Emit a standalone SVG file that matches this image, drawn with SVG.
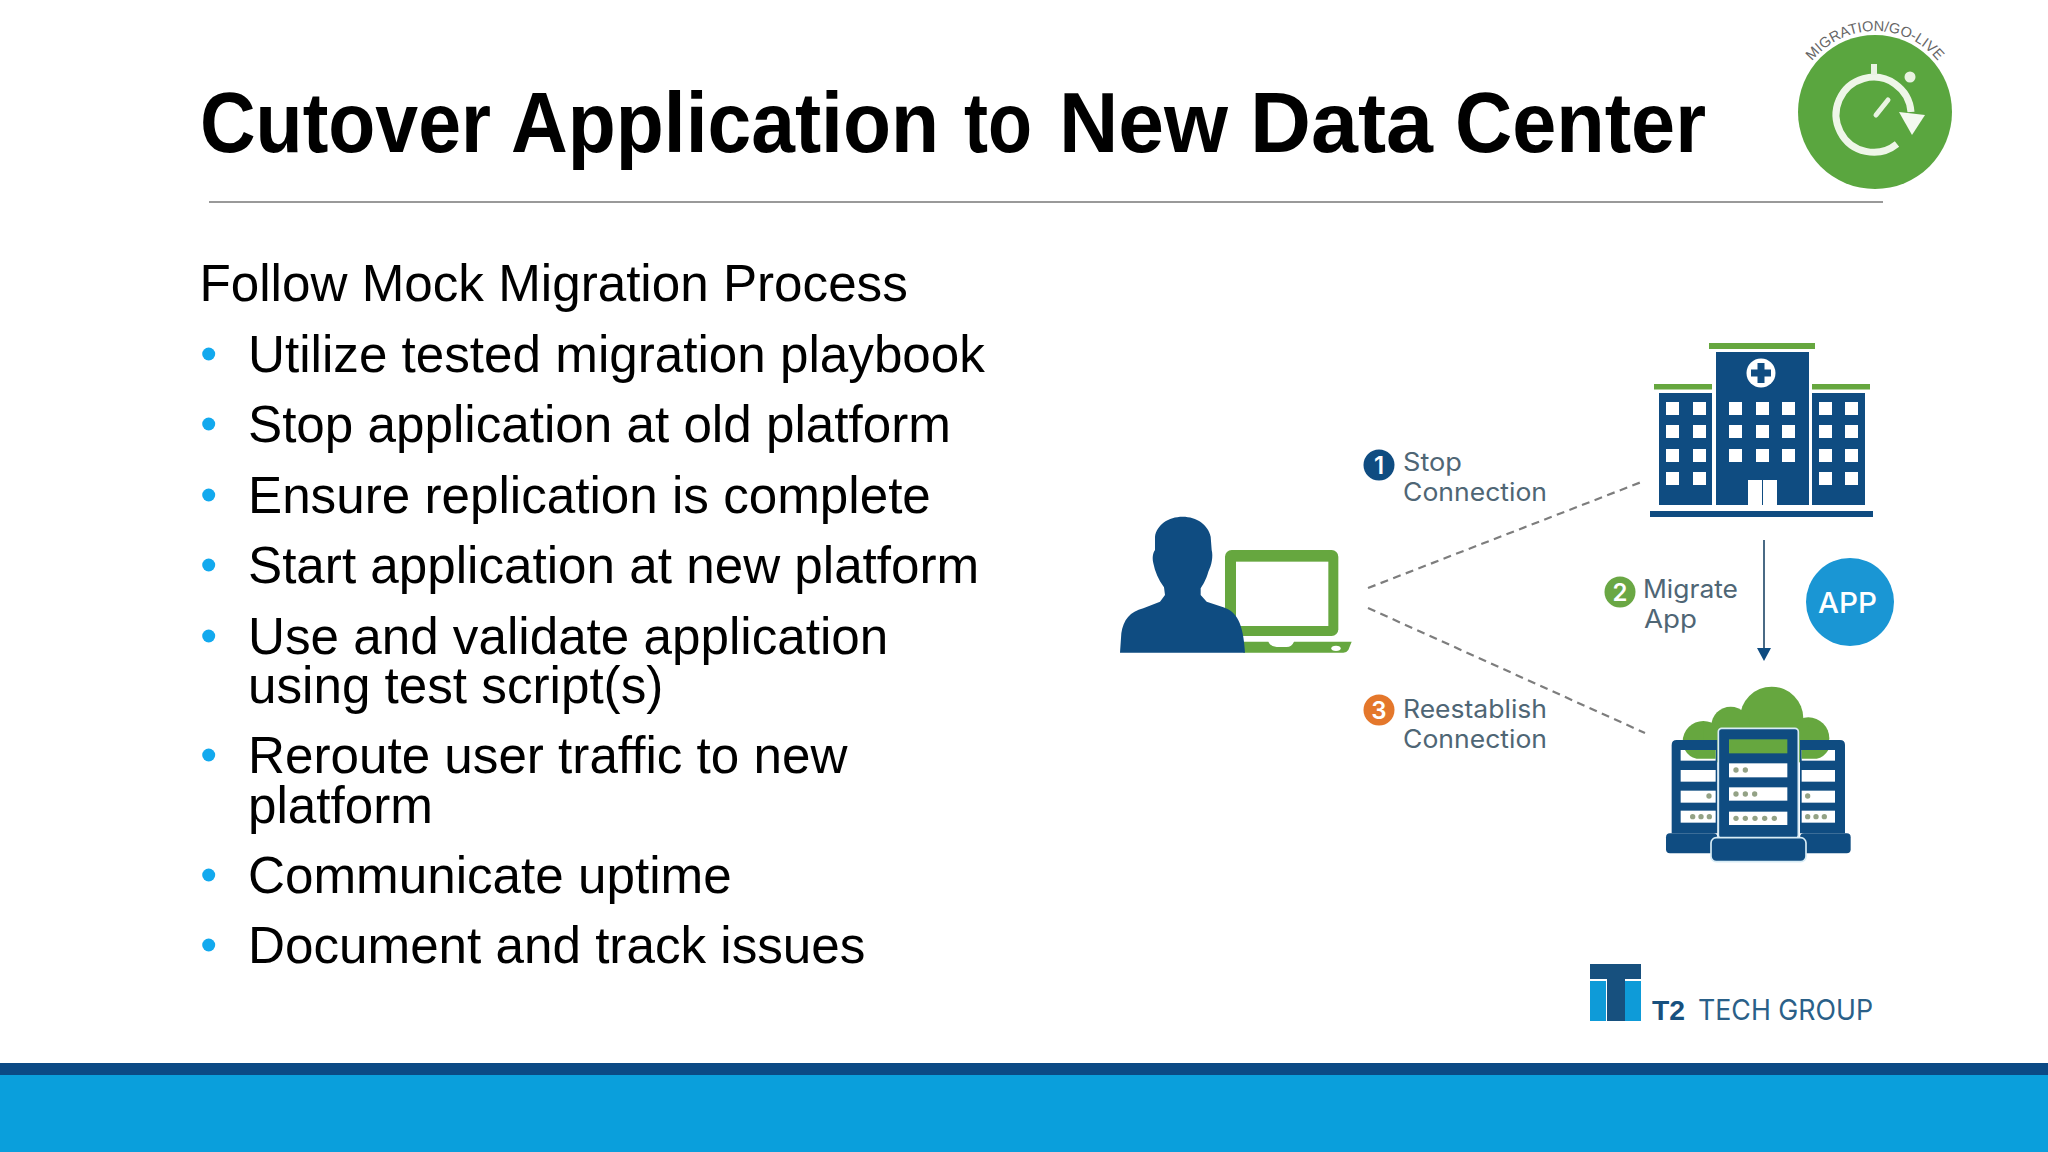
<svg xmlns="http://www.w3.org/2000/svg" width="2048" height="1152" viewBox="0 0 2048 1152">
<defs>
<style>
.title{font:bold 86px "Liberation Sans",Arial,sans-serif;fill:#000}
.body{font:51.2px "Liberation Sans",Arial,sans-serif;fill:#000}
.bul{fill:#12a9ee}
.lab{font:25px Inter,"Open Sans",sans-serif;fill:#4f6675}
.navy{fill:#0f4c81}
.green{fill:#66a73f}
.win{fill:#fff}
.dot{fill:#93a285}
.slot{fill:#fff}
.dash{fill:none;stroke:#7d7d7d;stroke-width:2.2;stroke-dasharray:8 5.500}
</style>
<marker id="ah" markerUnits="userSpaceOnUse" markerWidth="16" markerHeight="14" refX="1" refY="7" orient="auto"><path d="M0,0L13,7L0,14Z" fill="#0f4c81"/></marker>
</defs>
<rect width="2048" height="1152" fill="#fff"/>
<g id="footer"><rect y="1063" width="2048" height="12" fill="#0b4a85"/><rect y="1075" width="2048" height="77" fill="#0a9fdc"/></g>
<g id="title"><text class="title" y="152"><tspan x="200" textLength="291" lengthAdjust="spacingAndGlyphs">Cutover</tspan> <tspan x="511" textLength="428" lengthAdjust="spacingAndGlyphs">Application</tspan> <tspan x="964" textLength="68" lengthAdjust="spacingAndGlyphs">to</tspan> <tspan x="1059" textLength="169" lengthAdjust="spacingAndGlyphs">New</tspan> <tspan x="1250" textLength="183" lengthAdjust="spacingAndGlyphs">Data</tspan> <tspan x="1455" textLength="251" lengthAdjust="spacingAndGlyphs">Center</tspan></text><rect x="209" y="201" width="1674" height="2" fill="#999"/></g>
<g id="body">
<text class="body" x="199.500" y="301">Follow Mock Migration Process</text>
<circle class="bul" cx="208.700" cy="354" r="6.500"/><text class="body" x="248" y="372">Utilize tested migration playbook</text>
<circle class="bul" cx="208.700" cy="424" r="6.500"/><text class="body" x="248" y="442">Stop application at old platform</text>
<circle class="bul" cx="208.700" cy="495" r="6.500"/><text class="body" x="248" y="513">Ensure replication is complete</text>
<circle class="bul" cx="208.700" cy="565" r="6.500"/><text class="body" x="248" y="583">Start application at new platform</text>
<circle class="bul" cx="208.700" cy="636" r="6.500"/><text class="body" x="248" y="654">Use and validate application</text>
<text class="body" x="248" y="703">using test script(s)</text>
<circle class="bul" cx="208.700" cy="755" r="6.500"/><text class="body" x="248" y="773">Reroute user traffic to new</text>
<text class="body" x="248" y="823">platform</text>
<circle class="bul" cx="208.700" cy="875" r="6.500"/><text class="body" x="248" y="893">Communicate uptime</text>
<circle class="bul" cx="208.700" cy="945" r="6.500"/><text class="body" x="248" y="963">Document and track issues</text>
</g>
<g id="badge">
<circle cx="1875" cy="112" r="77" fill="#5aa63f"/>
<path id="arc" d="M1794,112A81,81 0 0 1 1956,112" fill="none"/>
<text font-family="'Liberation Sans',sans-serif" font-size="14.500" fill="#666" text-anchor="middle"><textPath href="#arc" startOffset="50%">MIGRATION/GO-LIVE</textPath></text>
<path d="M1897,144A37.500,37.500 0 1 1 1911,112" fill="none" stroke="#eef6e8" stroke-width="7"/>
<path d="M1899,112L1925,115L1912,135Z" fill="#f4f9f0"/>
<rect x="1871" y="64" width="6" height="11" fill="#e9f3e2"/>
<circle cx="1910" cy="77" r="5.500" fill="#e9f3e2"/>
<path d="M1876,115L1888,100" stroke="#e9f3e2" stroke-width="5" stroke-linecap="round"/>
</g>
<g id="connectors">
<path class="dash" d="M1368,588L1644,481"/>
<path class="dash" d="M1368,608L1645,733"/>
<path d="M1764,540V649" fill="none" stroke="#4a6a85" stroke-width="2" marker-end="url(#ah)"/>
</g>
<g id="person-laptop" transform="translate(1100,500) scale(.33333)">
<rect x="375" y="150" width="340" height="258" rx="20" class="green"/>
<rect x="408" y="185" width="277" height="193" fill="#fff"/>
<path class="green" d="M430,425H505Q512,441 530,441H560Q575,441 582,425H755L745,450Q740,458 730,458H430Z"/>
<ellipse cx="708" cy="445" rx="14" ry="8" fill="#fff"/>
<path class="navy" d="M60,458L64,400C70,360 90,335 130,325L180,305L195,285L192,262C175,240 165,215 160,190C155,165 162,155 165,150L165,110C170,75 205,50 248,50C290,50 325,75 332,110L335,150C340,170 335,195 325,215C318,240 308,255 302,265L302,285L320,305L370,322C410,335 430,370 435,458Z"/>
</g>
<g id="hospital">
<rect x="1709" y="343" width="106" height="6" class="green"/>
<rect x="1654" y="384" width="58" height="5.500" class="green"/>
<rect x="1812" y="384" width="58" height="5.500" class="green"/>
<rect x="1716" y="352" width="93" height="153" class="navy"/>
<rect x="1659" y="393" width="53" height="112" class="navy"/>
<rect x="1812" y="393" width="53" height="112" class="navy"/>
<rect x="1650" y="511" width="223" height="6" class="navy"/>
<g class="win">
<rect x="1666" y="402" width="13" height="13"/><rect x="1693" y="402" width="13" height="13"/><rect x="1666" y="425" width="13" height="13"/><rect x="1693" y="425" width="13" height="13"/><rect x="1666" y="449" width="13" height="13"/><rect x="1693" y="449" width="13" height="13"/><rect x="1666" y="472" width="13" height="13"/><rect x="1693" y="472" width="13" height="13"/>
<rect x="1729" y="402" width="13" height="13"/><rect x="1756" y="402" width="13" height="13"/><rect x="1782" y="402" width="13" height="13"/><rect x="1729" y="425" width="13" height="13"/><rect x="1756" y="425" width="13" height="13"/><rect x="1782" y="425" width="13" height="13"/><rect x="1729" y="449" width="13" height="13"/><rect x="1756" y="449" width="13" height="13"/><rect x="1782" y="449" width="13" height="13"/>
<rect x="1819" y="402" width="13" height="13"/><rect x="1845" y="402" width="13" height="13"/><rect x="1819" y="425" width="13" height="13"/><rect x="1845" y="425" width="13" height="13"/><rect x="1819" y="449" width="13" height="13"/><rect x="1845" y="449" width="13" height="13"/><rect x="1819" y="472" width="13" height="13"/><rect x="1845" y="472" width="13" height="13"/>
<rect x="1748" y="480" width="14" height="25"/><rect x="1763" y="480" width="14" height="25"/>
<circle cx="1761" cy="373" r="14.500"/>
</g>
<path class="navy" d="M1757.500,363h7v6.500h6.500v7h-6.500v6.500h-7v-6.500h-6.500v-7h6.500z"/>
</g>
<g id="cloud-servers" transform="translate(1640,670) scale(.33333)">
<g class="green"><circle cx="395" cy="145" r="95"/><circle cx="272" cy="168" r="58"/><circle cx="190" cy="215" r="62"/><circle cx="505" cy="205" r="63"/><rect x="190" y="170" width="315" height="107"/></g>
<path class="navy" d="M95,225Q95,210 110,210H232V490H95Z"/>
<path class="navy" d="M480,210H600Q615,210 615,225V490H480Z"/>
<rect x="122" y="240" width="105" height="32" class="slot"/><rect x="122" y="300" width="105" height="35" class="slot"/><rect x="122" y="362" width="105" height="36" class="slot"/><rect x="122" y="422" width="105" height="36" class="slot"/>
<rect x="485" y="240" width="100" height="32" class="slot"/><rect x="485" y="300" width="100" height="35" class="slot"/><rect x="485" y="362" width="100" height="36" class="slot"/><rect x="485" y="422" width="100" height="36" class="slot"/>
<path class="green" d="M135,240H227V266H170Q145,260 135,240Z"/><path class="green" d="M485,240H565Q552,262 530,266H485Z"/>
<rect x="78" y="490" width="154" height="60" rx="12" class="navy"/><rect x="480" y="490" width="152" height="60" rx="12" class="navy"/>
<rect x="235" y="175" width="240" height="330" rx="10" class="navy" stroke="#d8ecf5" stroke-width="5"/>
<rect x="267" y="208" width="175" height="42" class="green"/>
<rect x="267" y="280" width="175" height="42" class="slot"/><rect x="267" y="352" width="175" height="40" class="slot"/><rect x="267" y="425" width="175" height="40" class="slot"/>
<rect x="213" y="503" width="285" height="72" rx="16" class="navy" stroke="#d8ecf5" stroke-width="5"/>
<g class="dot"><circle cx="288" cy="300" r="8"/><circle cx="316" cy="300" r="8"/><circle cx="288" cy="372" r="8"/><circle cx="316" cy="372" r="8"/><circle cx="344" cy="372" r="8"/><circle cx="288" cy="445" r="8"/><circle cx="316" cy="445" r="8"/><circle cx="345" cy="445" r="8"/><circle cx="374" cy="445" r="8"/><circle cx="403" cy="445" r="8"/><circle cx="207" cy="378" r="8"/><circle cx="158" cy="440" r="8"/><circle cx="183" cy="440" r="8"/><circle cx="208" cy="440" r="8"/><circle cx="503" cy="378" r="8"/><circle cx="503" cy="440" r="8"/><circle cx="528" cy="440" r="8"/><circle cx="553" cy="440" r="8"/></g>
</g>
<g id="step-1"><circle cx="1379" cy="465" r="15.500" fill="#0f4c81"/><text x="1379" y="474" font-family="Inter,sans-serif" font-size="24" font-weight="600" fill="#fff" text-anchor="middle">1</text>
<text class="lab" x="1403" y="471" textLength="59" lengthAdjust="spacingAndGlyphs">Stop</text><text class="lab" x="1403" y="501" textLength="144" lengthAdjust="spacingAndGlyphs">Connection</text></g>
<g id="step-2"><circle cx="1620" cy="592" r="15.500" fill="#6aa744"/><text x="1620" y="601" font-family="Inter,sans-serif" font-size="24" font-weight="600" fill="#fff" text-anchor="middle">2</text>
<text class="lab" x="1643" y="598" textLength="95" lengthAdjust="spacingAndGlyphs">Migrate</text><text class="lab" x="1644" y="628" textLength="53" lengthAdjust="spacingAndGlyphs">App</text></g>
<g id="step-3"><circle cx="1379" cy="710" r="15.500" fill="#e4772b"/><text x="1379" y="719" font-family="Inter,sans-serif" font-size="24" font-weight="600" fill="#fff" text-anchor="middle">3</text>
<text class="lab" x="1403" y="718" textLength="144" lengthAdjust="spacingAndGlyphs">Reestablish</text><text class="lab" x="1403" y="748" textLength="144" lengthAdjust="spacingAndGlyphs">Connection</text></g>
<g id="app"><circle cx="1850" cy="602" r="44" fill="#1a96d4"/><text x="1818" y="613" font-family="Inter,sans-serif" font-size="29" font-weight="500" fill="#fff" textLength="59" lengthAdjust="spacingAndGlyphs">APP</text></g>
<g id="logo">
<rect x="1590" y="981" width="16" height="40" fill="#0e9bd8"/><rect x="1625" y="981" width="16" height="40" fill="#0e9bd8"/>
<path d="M1590,964H1641V979H1625V1021H1607V979H1590Z" fill="#17507e"/>
<text x="1652" y="1020" font-family="'Liberation Sans',sans-serif" font-size="28" font-weight="bold" fill="#17507e" textLength="33" lengthAdjust="spacingAndGlyphs">T2</text>
<text x="1698" y="1020" font-family="Inter,sans-serif" font-size="28" fill="#2a6088" textLength="175" lengthAdjust="spacingAndGlyphs">TECH GROUP</text>
</g>
</svg>
